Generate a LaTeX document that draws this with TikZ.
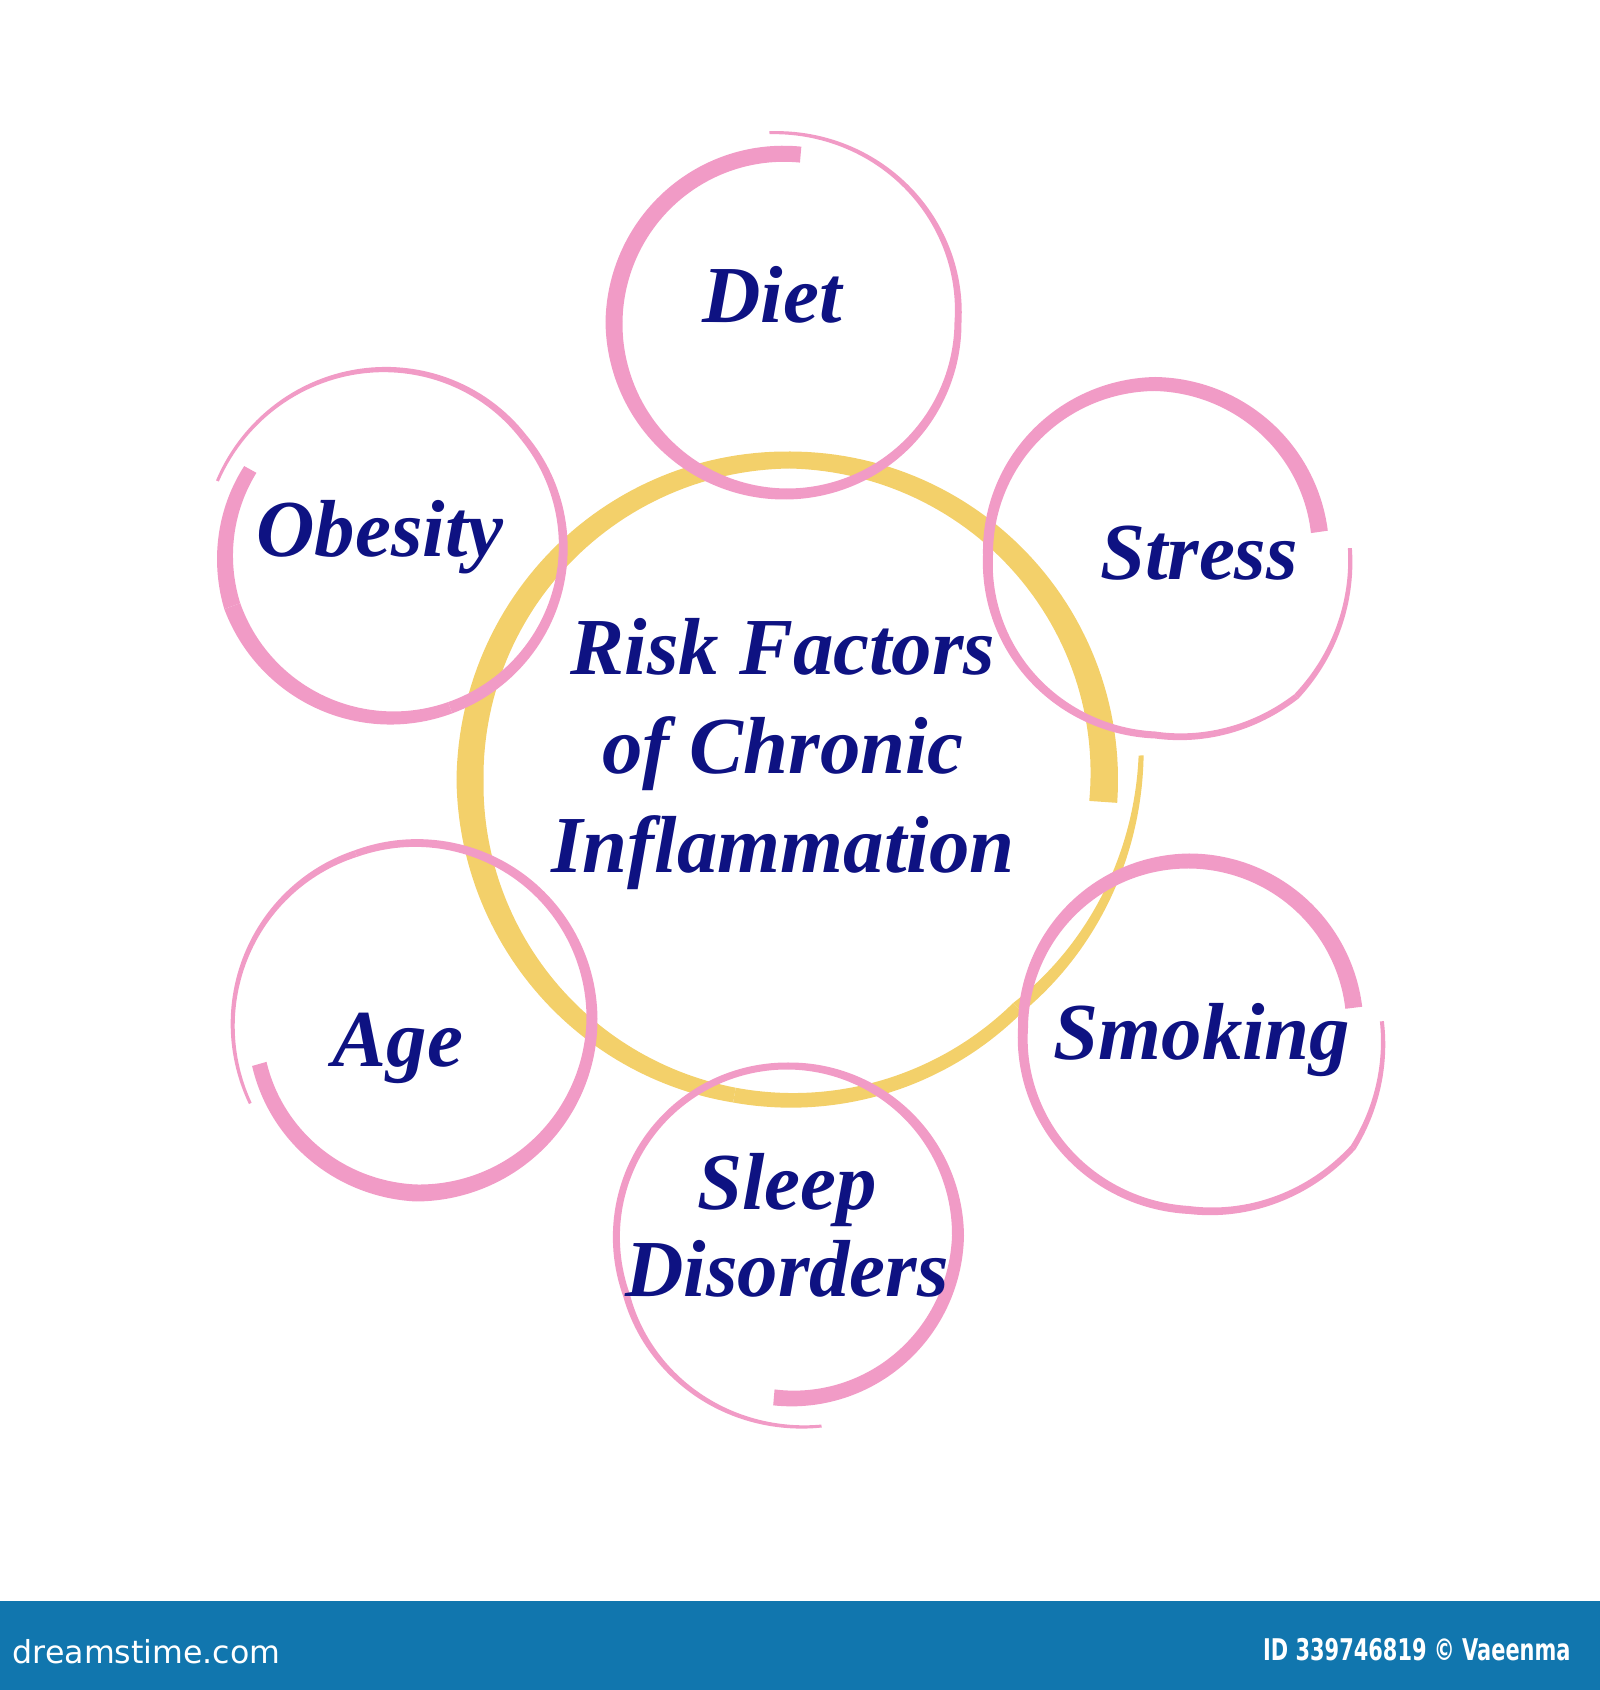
\documentclass[tikz,border=0pt]{standalone}
\usepackage{fontspec}
\setmainfont{Liberation Serif}
\newfontfamily\barfont{DejaVu Sans}
\definecolor{ringpink}{RGB}{241,155,198}
\definecolor{ringyellow}{RGB}{243,208,106}
\definecolor{labelnavy}{RGB}{14,18,130}
\definecolor{barblue}{RGB}{17,118,174}
% [colour]{cx}{cy}{from angle}{to angle}{from radius}{to radius}{from width}{to width}
\newcommand{\brusharc}[9][ringpink]{%
\fill[#1] plot[domain=#4:#5,samples=60]
 ({#2+(#6+(#7-#6)*(\x-(#4))/(#5-(#4))+(#8+(#9-#8)*(\x-(#4))/(#5-(#4)))/2)*cos(\x)},
  {#3+(#6+(#7-#6)*(\x-(#4))/(#5-(#4))+(#8+(#9-#8)*(\x-(#4))/(#5-(#4)))/2)*sin(\x)})
 -- plot[domain=#5:#4,samples=60]
 ({#2+(#6+(#7-#6)*(\x-(#4))/(#5-(#4))-(#8+(#9-#8)*(\x-(#4))/(#5-(#4)))/2)*cos(\x)},
  {#3+(#6+(#7-#6)*(\x-(#4))/(#5-(#4))-(#8+(#9-#8)*(\x-(#4))/(#5-(#4)))/2)*sin(\x)})
 -- cycle;}
\tikzset{
  factortext/.style={text=labelnavy,font=\fontsize{23}{24.75}\selectfont\bfseries\itshape,align=center,inner sep=0pt},
  maintext/.style={text=labelnavy,font=\fontsize{23}{28.2}\selectfont\bfseries\itshape,align=center,inner sep=0pt},
  bartext/.style={text=white,inner sep=0pt}
}
\begin{document}
\begin{tikzpicture}[x=0.01cm,y=0.01cm]
\useasboundingbox (0,0) rectangle (1600,1690);
%
\brusharc[ringyellow]{790}{910}{4}{-45}{352}{322}{5}{13}
\brusharc[ringyellow]{790}{910}{-45}{-100}{322}{320}{13}{15}
\brusharc[ringyellow]{790}{910}{-100}{-180}{320}{320}{15}{27}
\brusharc[ringyellow]{790}{910}{-180}{-270}{320}{320}{27}{17}
\brusharc[ringyellow]{790}{910}{-270}{-364}{320}{314}{17}{28}
%
\brusharc{786}{1368}{85}{180}{168}{172}{16}{17}
\brusharc{786}{1368}{180}{270}{172}{172}{17}{11}
\brusharc{786}{1368}{270}{360}{172}{172}{11}{7}
\brusharc{786}{1368}{360}{455}{172}{190}{7}{3}
%
\brusharc{392}{1142}{151}{200}{162}{170}{14}{17}
\brusharc{392}{1142}{200}{290}{170}{170}{17}{12}
\brusharc{392}{1142}{290}{400}{170}{172}{12}{7}
\brusharc{392}{1142}{400}{519}{172}{187}{7}{3}
%
\brusharc{1155}{1135}{2}{-45}{195}{200}{4}{6}
\brusharc{1155}{1135}{-45}{-90}{200}{180}{6}{7}
\brusharc{1155}{1135}{-90}{-180}{180}{167}{7}{10}
\brusharc{1155}{1135}{-180}{-270}{167}{171}{10}{14}
\brusharc{1155}{1135}{-270}{-352}{171}{166}{14}{17}
%
\brusharc{416}{671}{196}{270}{163}{174}{15}{17}
\brusharc{416}{671}{270}{360}{174}{176}{17}{11}
\brusharc{416}{671}{360}{470}{176}{176}{11}{7}
\brusharc{416}{671}{470}{567}{176}{186}{7}{3}
%
\brusharc{1189}{662}{2}{-36}{193}{203}{4}{6}
\brusharc{1189}{662}{-36}{-90}{203}{182}{6}{8}
\brusharc{1189}{662}{-90}{-180}{182}{166}{8}{10}
\brusharc{1189}{662}{-180}{-270}{166}{167}{10}{15}
\brusharc{1189}{662}{-270}{-353}{167}{166}{15}{17}
%
\brusharc{788}{454}{265}{360}{162}{170}{16}{12}
\brusharc{788}{454}{360}{450}{170}{170}{12}{7}
\brusharc{788}{454}{450}{560}{170}{172}{7}{7}
\brusharc{788}{454}{560}{640}{172}{193}{7}{3}
%
\node[maintext,anchor=base] (title) at (783,817) {Risk Factors\\of Chronic\\Inflammation};
\node[factortext,anchor=base] (diet) at (772,1367) {Diet};
\node[factortext,anchor=base] (obesity) at (380,1133) {Obesity};
\node[factortext,anchor=base] (stress) at (1199,1110) {Stress};
\node[factortext,anchor=base] (age) at (398,623) {Age};
\node[factortext,anchor=base] (smoking) at (1202,630) {Smoking};
\node[factortext,anchor=base] (sleep) at (787,393) {Sleep\\Disorders};
%
\fill[barblue] (0,0) rectangle (1600,89);
\node[bartext,anchor=base west,font=\barfont\fontsize{9}{11}\selectfont] (site) at (12,26) {dreamstime.com};
\node[bartext,anchor=base east,font=\barfont\bfseries\fontsize{8.5}{10}\selectfont,xscale=0.7,transform shape] (imageid) at (1571,30) {ID 339746819 © Vaeenma};
\end{tikzpicture}
\end{document}
